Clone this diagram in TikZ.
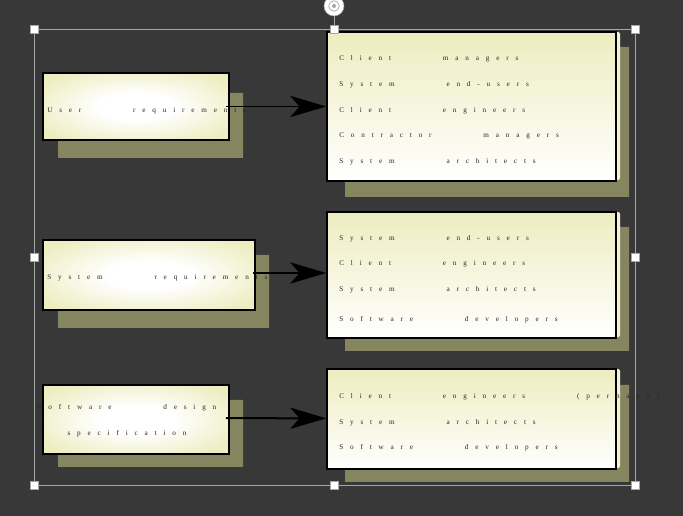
\documentclass[tikz,border=0pt]{standalone}
\usepackage{fontspec}
\setmainfont{Liberation Serif}
\newfontfamily\spacedfont[LetterSpace=95,WordSpace=6]{Liberation Serif}
\usetikzlibrary{arrows.meta}
\definecolor{bgc}{HTML}{383838}
\definecolor{shadowc}{HTML}{85855F}
\definecolor{creamc}{HTML}{EDEDC0}
\definecolor{framec}{HTML}{A6A6A6}
\pgfdeclareradialshading{reqshade}{\pgfpointorigin}{color(0bp)=(white); color(10bp)=(white); color(31bp)=(creamc); color(50bp)=(creamc)}
\tikzset{
	reqbox/.style={draw=black,line width=1.2pt,shading=reqshade,minimum height=#1*0.75pt},
	whobox/.style={draw=black,line width=1.2pt,top color=creamc,bottom color=white,minimum width=216.75pt,minimum height=#1*0.75pt},
	spaced/.style={inner sep=0pt,text=black!85,align=left,font=\spacedfont\fontsize{5.4}{19.3}\selectfont},
	handle/.style={draw=framec,fill=white,line width=0.4pt,minimum size=6pt,inner sep=0pt},
}
\begin{document}
\begin{tikzpicture}[x=0.75pt,y=-0.75pt,>={Stealth[length=27pt,width=16pt,inset=7pt]}]
	\useasboundingbox (0,0) rectangle (683,516);
	\fill[bgc] (0,0) rectangle (683,516);
	% shadows
	\fill[shadowc] (58,93) rectangle (243,158) (58,255) rectangle (269,328) (58,400) rectangle (243,467);
	\fill[shadowc] (345,47) rectangle (629,197) (345,227) rectangle (629,351) (345,385) rectangle (629,482);
	% cream edge
	\foreach \ya/\yb in {32/180,212/337,369/468}
		\fill[creamc!70!white,rounded corners=1.5pt] (612,\ya) rectangle (620,\yb);
	% selection frame
	\draw[framec,line width=0.6pt] (34,29) rectangle (635,485);
	\coordinate (rot) at (334,6);
	\coordinate (topmid) at (334,29);
	\draw[framec,line width=0.6pt] (rot) -- (topmid);
	% boxes
	\node[reqbox=67,minimum width=139.5pt] (ureq) at (136,106.5) {};
	\node[reqbox=70,minimum width=159pt] (sreq) at (149,275) {};
	\node[reqbox=69,minimum width=139.5pt] (sdes) at (136,419.5) {};
	\node[whobox=149] (who1) at (471.5,106.5) {};
	\node[whobox=126] (who2) at (471.5,275) {};
	\node[whobox=100] (who3) at (471.5,419) {};
	% text
	\node[spaced,anchor=west] (t1) at (47,111) {User requirements};
	\node[spaced,anchor=west] (t2) at (47,278) {System requirements};
	\node[spaced,align=center] (t3) at (127,421) {Software design\\specification};
	\node[spaced,anchor=west] (t4) at (339,110.5) {Client managers\\System end-users\\Client engineers\\Contractor managers\\System architects};
	\node[spaced,anchor=west] (t5) at (339,279) {System end-users\\Client engineers\\System architects\\[3pt]Software developers};
	\node[spaced,anchor=west] (t6) at (339,422.5) {Client engineers (perhaps)\\System architects\\Software developers};
	% arrows
	\draw[->,line width=1.2pt] ([xshift=-3pt]ureq.east) -- (who1.west);
	\draw[->,line width=1.2pt] ([xshift=-2pt,yshift=1.5pt]sreq.east) -- ([yshift=1.5pt]who2.west);
	\draw[->,line width=1.5pt] ([xshift=-3pt,yshift=1pt]sdes.east) -- ([yshift=0.5pt]who3.west);
	% handles
	\foreach \a/\b in {34/29,334/29,635/29,34/257,635/257,34/485,334/485,635/485}
		\node[handle] at (\a,\b) {};
	\node[circle,draw=framec,fill=white,line width=0.4pt,minimum size=15pt,inner sep=0pt] (rotk) at (rot) {};
	\fill[framec] (rot) circle (1.5pt);
	\draw[framec,line width=0.5pt] (rot) circle (4pt);
\end{tikzpicture}
\end{document}
